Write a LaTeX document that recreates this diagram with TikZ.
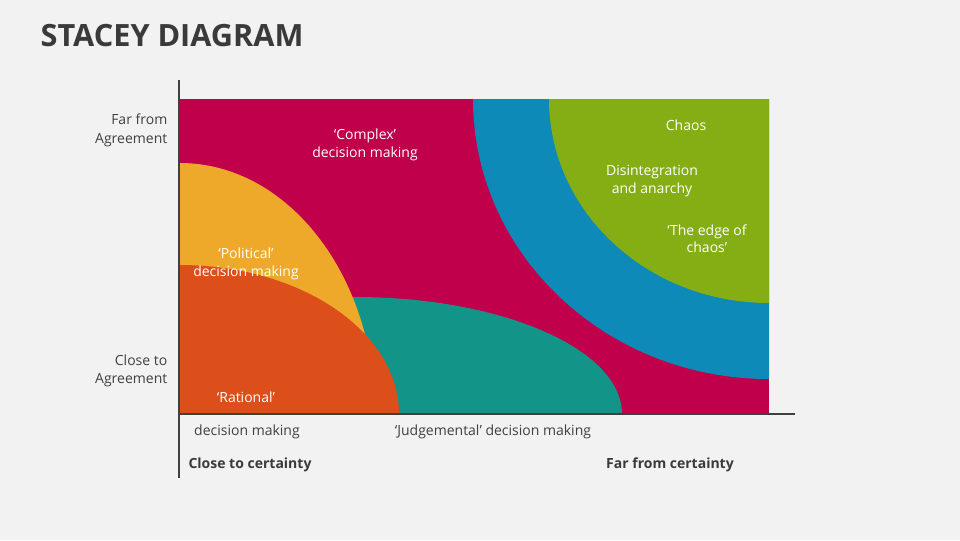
\documentclass[tikz,border=0pt]{standalone}
\usepackage{fontspec}
\setmainfont{Open Sans}
\definecolor{bg}{HTML}{F2F2F2}
\definecolor{mag}{HTML}{C0004B}
\definecolor{orng}{HTML}{EFA92A}
\definecolor{rorng}{HTML}{DC4E1A}
\definecolor{teal}{HTML}{139488}
\definecolor{blu}{HTML}{0E8AB8}
\definecolor{grn}{HTML}{85AE14}
\definecolor{ttl}{HTML}{3A3A3A}
\definecolor{lbl}{HTML}{404040}
\begin{document}
\begin{tikzpicture}[x=0.75pt,y=-0.75pt,
  wt/.style={text=white,font=\fontsize{10.5}{13}\selectfont,align=center},
  ax/.style={text=lbl,font=\fontsize{10.5}{14}\selectfont},
  axb/.style={text=ttl,font=\fontsize{10.5}{14}\selectfont\bfseries}]
\fill[bg] (0,0) rectangle (960,540);
\useasboundingbox (0,0) rectangle (960,540);
\node[anchor=west,text=ttl,font=\fontsize{23}{26}\selectfont\bfseries] (title) at (36,36) {STACEY DIAGRAM};
\begin{scope}
\clip (180,99) rectangle (769,414);
\fill[mag] (180,99) rectangle (769,414);
\fill[blu] (769,99) ellipse [x radius=296, y radius=280];
\fill[grn] (769,99) ellipse [x radius=220, y radius=204];
\fill[teal] (355,414) ellipse [x radius=267, y radius=117];
\fill[orng] (180,414) ellipse [x radius=195, y radius=251];
\fill[rorng] (180,414) ellipse [x radius=219, y radius=149];
\end{scope}
\draw[lbl,line width=0.8pt] (179,80) -- (179,478);
\draw[lbl,line width=0.8pt] (179,414) -- (795,414);
\node[wt] (cx) at (365,145) {‘Complex’\\decision making};
\node[wt] (po) at (246,264) {‘Political’\\decision making};
\node[wt] (ra) at (246,397) {‘Rational’};
\node[wt] (ch) at (686,125) {Chaos};
\node[wt] (di) at (652,181) {Disintegration\\and anarchy};
\node[wt] (ed) at (707,239) {‘The edge of\\chaos’};
\node[ax,align=right,anchor=east] (fa) at (172,130) {Far from\\Agreement};
\node[ax,align=right,anchor=east] (ca) at (172,371) {Close to\\Agreement};
\node[ax] (dm) at (247,432) {decision making};
\node[ax] (jd) at (493,432) {‘Judgemental’ decision making};
\node[axb] (cc) at (250,465) {Close to certainty};
\node[axb] (fc) at (670,465) {Far from certainty};
\end{tikzpicture}
\end{document}
